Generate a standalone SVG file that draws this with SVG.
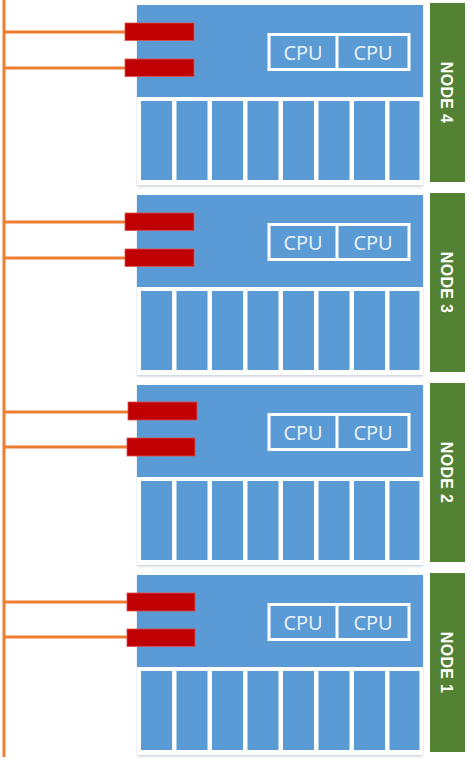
<svg xmlns="http://www.w3.org/2000/svg" width="474" height="765" viewBox="0 0 474 765">
<defs>
<filter id="sh" x="-5%" y="-5%" width="110%" height="110%">
<feDropShadow dx="0" dy="1.5" stdDeviation="1.2" flood-color="#8a9bb0" flood-opacity="0.45"/>
</filter>
<g id="node">
<rect x="137" y="0" width="286" height="180" fill="#ffffff" filter="url(#sh)"/>
<rect x="137" y="0" width="286" height="92" fill="#5B9BD5"/>
<rect x="269" y="29.5" width="140" height="35" fill="none" stroke="#ffffff" stroke-width="3"/>
<line x1="337" y1="29.5" x2="337" y2="64.5" stroke="#ffffff" stroke-width="3"/>
<text class="cpu" x="303" y="54.5">CPU</text>
<text class="cpu" x="373" y="54.5">CPU</text>
<rect class="slot" x="141" y="96" width="31" height="79"/>
<rect class="slot" x="176.5" y="96" width="31" height="79"/>
<rect class="slot" x="212" y="96" width="31" height="79"/>
<rect class="slot" x="247.5" y="96" width="31" height="79"/>
<rect class="slot" x="283" y="96" width="31" height="79"/>
<rect class="slot" x="318.5" y="96" width="31" height="79"/>
<rect class="slot" x="354" y="96" width="31" height="79"/>
<rect class="slot" x="389.5" y="96" width="30" height="79"/>
<rect x="430" y="-2" width="35" height="179" fill="#548235"/>
</g>
</defs>
<style>
.cpu{font-family:"Open Sans","Liberation Sans",sans-serif;font-size:20px;fill:#eef4fb;text-anchor:middle}
.slot{fill:#5B9BD5}
.lbl{font-family:"Liberation Sans",Arial,sans-serif;font-size:16px;font-weight:bold;fill:#ffffff;text-anchor:middle;letter-spacing:0.3px}
.port{fill:#C00000;stroke:#d9534f;stroke-width:0.8}
.wire{stroke:#ED7D31;stroke-width:3;fill:none}
</style>
<rect width="474" height="765" fill="#ffffff"/>

<g id="node4" transform="translate(0,5)">
<use href="#node"/>
<text class="lbl" transform="translate(441,87.5) rotate(90)">NODE 4</text>
</g>
<g id="node3" transform="translate(0,195)">
<use href="#node"/>
<text class="lbl" transform="translate(441,87.5) rotate(90)">NODE 3</text>
</g>
<g id="node2" transform="translate(0,385)">
<use href="#node"/>
<text class="lbl" transform="translate(441,87.5) rotate(90)">NODE 2</text>
</g>
<g id="node1" transform="translate(0,575)">
<use href="#node"/>
<text class="lbl" transform="translate(441,87.5) rotate(90)">NODE 1</text>
</g>

<g id="connectors">
<line class="wire" x1="4" y1="0" x2="4" y2="757"/>
<line class="wire" x1="4" y1="32" x2="126" y2="32"/>
<line class="wire" x1="4" y1="68" x2="126" y2="68"/>
<line class="wire" x1="4" y1="222" x2="126" y2="222"/>
<line class="wire" x1="4" y1="258" x2="126" y2="258"/>
<line class="wire" x1="4" y1="412" x2="128" y2="412"/>
<line class="wire" x1="4" y1="447" x2="127" y2="447"/>
<line class="wire" x1="4" y1="602" x2="127" y2="602"/>
<line class="wire" x1="4" y1="637" x2="127" y2="637"/>
</g>
<g id="ports">
<rect class="port" x="125" y="23" width="69" height="17.5"/>
<rect class="port" x="125" y="59" width="69" height="17.5"/>
<rect class="port" x="125" y="213" width="69" height="17.5"/>
<rect class="port" x="125" y="249" width="69" height="17.5"/>
<rect class="port" x="128" y="402" width="69" height="18"/>
<rect class="port" x="127" y="438" width="68" height="18"/>
<rect class="port" x="127" y="593" width="68" height="18"/>
<rect class="port" x="127" y="629" width="68" height="17.5"/>
</g>
</svg>
